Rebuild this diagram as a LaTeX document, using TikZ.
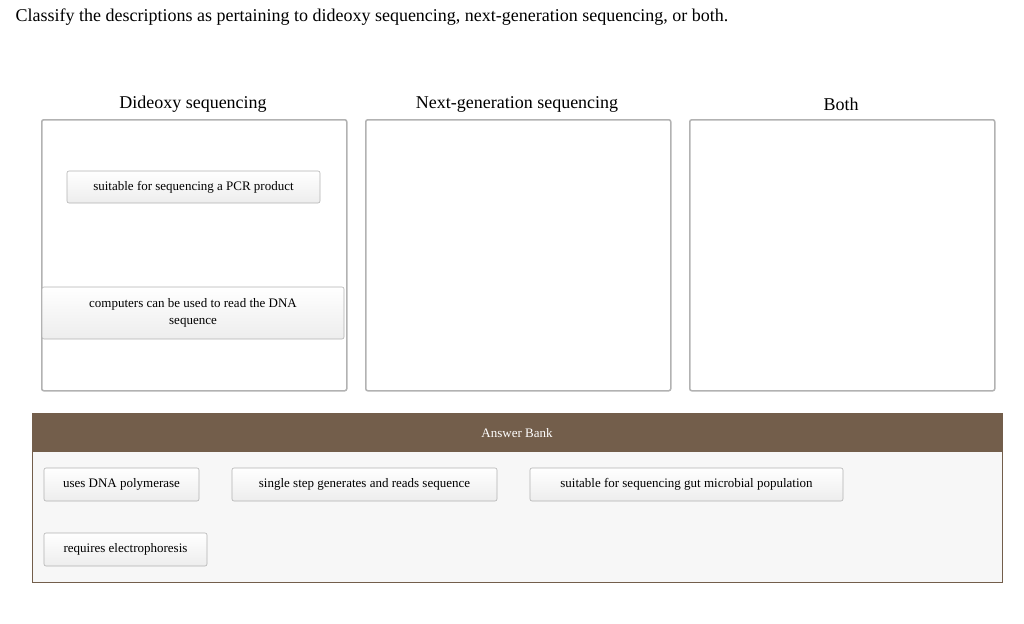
\documentclass[tikz,border=0pt]{standalone}
\usepackage{fontspec}
\setmainfont{Liberation Serif}
\begin{document}
\begin{tikzpicture}[x=1pt,y=-1pt,
 box/.style={draw=black!30,line width=1.5pt,rounded corners=2pt},
 card/.style={draw=black!30,line width=0.6pt,rounded corners=2pt,top color=white,bottom color=black!7},
 ct/.style={font=\fontsize{13}{17}\selectfont,align=center},
 hd/.style={font=\fontsize{18}{20}\selectfont}]
\useasboundingbox (0,0) rectangle (1024,623);
\node[hd,anchor=west] (title) at (12,17) {Classify the descriptions as pertaining to dideoxy sequencing, next-generation sequencing, or both.};
\node[box,minimum width=305,minimum height=271,anchor=north west] (b1) at (41,119) {};
\node[box,minimum width=305,minimum height=271,anchor=north west] (b2) at (365,119) {};
\node[box,minimum width=305,minimum height=271,anchor=north west] (b3) at (689,119) {};
\node[hd] (h1) at (193,104) {Dideoxy sequencing};
\node[hd] (h2) at (517,104) {Next-generation sequencing};
\node[hd] (h3) at (841,104) {Both};
\draw[card] (67,171) rectangle (320,203);
\node[ct] (c1) at (193.5,187) {suitable for sequencing a PCR product};
\draw[card] (42,287) rectangle (344,339);
\node[ct] (c2) at (193,313) {computers can be used to read the DNA\\sequence};
\fill[black!3] (32,452) rectangle (1002,582);
\draw[draw={rgb,255:red,115;green,94;blue,75},line width=0.8pt] (32,413) rectangle (1002,582);
\fill[fill={rgb,255:red,115;green,94;blue,75}] (32,413) rectangle (1002,452);
\node[ct,text=white] (ab) at (517,433) {Answer Bank};
\draw[card] (44,468) rectangle (199,501);
\node[ct] (a1) at (121.5,484.5) {uses DNA polymerase};
\draw[card] (232,468) rectangle (497,501);
\node[ct] (a2) at (364.5,484.5) {single step generates and reads sequence};
\draw[card] (530,468) rectangle (843,501);
\node[ct] (a3) at (686.5,484.5) {suitable for sequencing gut microbial population};
\draw[card] (44,533) rectangle (207,566);
\node[ct] (a4) at (125.5,549.5) {requires electrophoresis};
\end{tikzpicture}
\end{document}
